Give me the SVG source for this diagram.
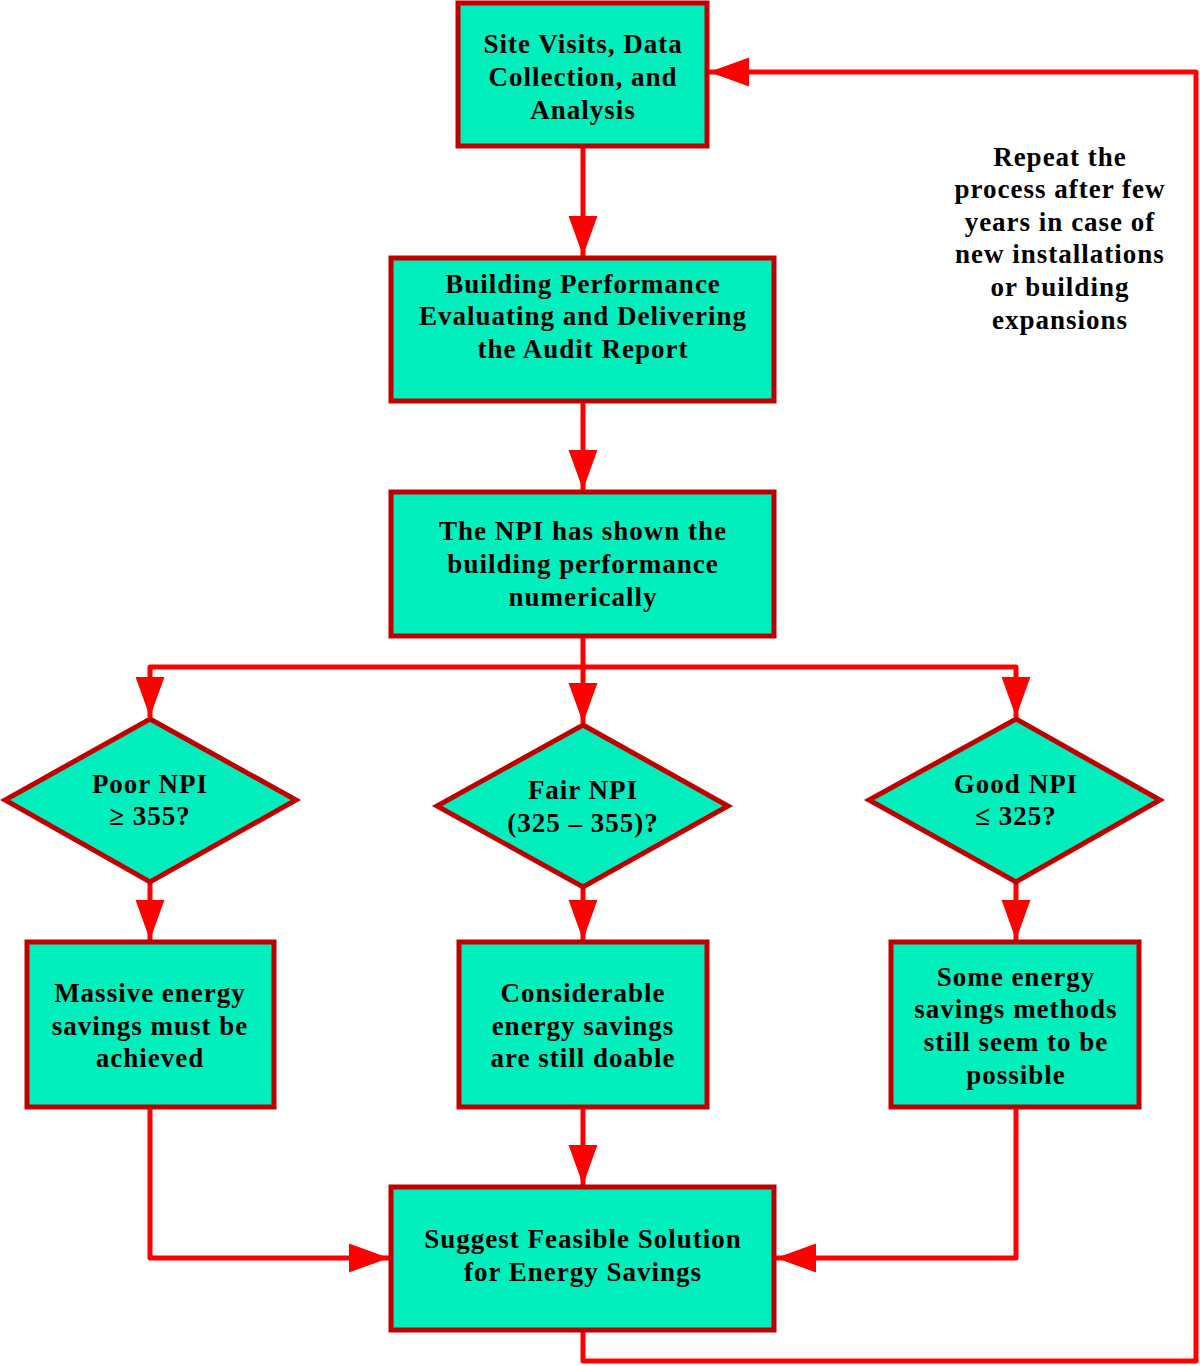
<svg xmlns="http://www.w3.org/2000/svg" width="1200" height="1366" viewBox="0 0 1200 1366">
<defs>
<style>
.n{fill:#00EFBC;stroke:#C00000;stroke-width:5}
.t{font-family:"Liberation Serif","DejaVu Serif",serif;font-weight:bold;font-size:27px;letter-spacing:1px;fill:#000;text-anchor:middle}
.c{fill:none;stroke:#FF0000;stroke-width:5;stroke-linejoin:round}
</style>
<marker id="a" markerUnits="userSpaceOnUse" markerWidth="40" markerHeight="30" viewBox="0 0 36 26" refX="36" refY="13" orient="auto">
<path d="M0,0 L36,13 L0,26 Z" fill="#FF0000"/>
</marker>
</defs>
<rect width="1200" height="1366" fill="#fff"/>
<g id="connectors">
<path class="c" d="M583,146 V256" marker-end="url(#a)"/>
<path class="c" d="M583,401 V490" marker-end="url(#a)"/>
<path class="c" d="M583,636 V723" marker-end="url(#a)"/>
<path class="c" d="M583,667 H150 V717" marker-end="url(#a)"/>
<path class="c" d="M583,667 H1016 V717" marker-end="url(#a)"/>
<path class="c" d="M150,882 V940" marker-end="url(#a)"/>
<path class="c" d="M583,887 V940" marker-end="url(#a)"/>
<path class="c" d="M1016,882 V940" marker-end="url(#a)"/>
<path class="c" d="M150,1107 V1258 H389" marker-end="url(#a)"/>
<path class="c" d="M1016,1107 V1258 H776" marker-end="url(#a)"/>
<path class="c" d="M583,1107 V1185" marker-end="url(#a)"/>
<path class="c" d="M583,1330 V1361 H1196 V72 H709" marker-end="url(#a)"/>
</g>
<g id="n1"><rect class="n" x="458" y="3" width="249" height="143"/>
<text class="t"><tspan x="583" y="53">Site Visits, Data</tspan><tspan x="583" y="86">Collection, and</tspan><tspan x="583" y="119">Analysis</tspan></text></g>
<g id="n2"><rect class="n" x="391" y="258" width="383" height="143"/>
<text class="t"><tspan x="583" y="293">Building Performance</tspan><tspan x="583" y="325">Evaluating and Delivering</tspan><tspan x="583" y="358">the Audit Report</tspan></text></g>
<g id="n3"><rect class="n" x="391" y="492" width="383" height="144"/>
<text class="t"><tspan x="583" y="540">The NPI has shown the</tspan><tspan x="583" y="573">building performance</tspan><tspan x="583" y="606">numerically</tspan></text></g>
<g id="d1"><polygon class="n" points="150,719 296,800 150,882 5,800"/>
<text class="t"><tspan x="150" y="793">Poor NPI</tspan><tspan x="150" y="825">≥ 355?</tspan></text></g>
<g id="d2"><polygon class="n" points="583,725 728,806 583,887 437,806"/>
<text class="t"><tspan x="583" y="799">Fair NPI</tspan><tspan x="583" y="832">(325 – 355)?</tspan></text></g>
<g id="d3"><polygon class="n" points="1016,719 1160,800 1016,882 869,800"/>
<text class="t"><tspan x="1016" y="793">Good NPI</tspan><tspan x="1016" y="825">≤ 325?</tspan></text></g>
<g id="n4"><rect class="n" x="27" y="942" width="247" height="165"/>
<text class="t"><tspan x="150" y="1002">Massive energy</tspan><tspan x="150" y="1035">savings must be</tspan><tspan x="150" y="1067">achieved</tspan></text></g>
<g id="n5"><rect class="n" x="459" y="942" width="248" height="165"/>
<text class="t"><tspan x="583" y="1002">Considerable</tspan><tspan x="583" y="1035">energy savings</tspan><tspan x="583" y="1067">are still doable</tspan></text></g>
<g id="n6"><rect class="n" x="891" y="942" width="248" height="165"/>
<text class="t"><tspan x="1016" y="986">Some energy</tspan><tspan x="1016" y="1018">savings methods</tspan><tspan x="1016" y="1051">still seem to be</tspan><tspan x="1016" y="1084">possible</tspan></text></g>
<g id="n7"><rect class="n" x="391" y="1187" width="383" height="143"/>
<text class="t"><tspan x="583" y="1248">Suggest Feasible Solution</tspan><tspan x="583" y="1281">for Energy Savings</tspan></text></g>
<g id="note"><text class="t"><tspan x="1060" y="166">Repeat the</tspan><tspan x="1060" y="198">process after few</tspan><tspan x="1060" y="231">years in case of</tspan><tspan x="1060" y="263">new installations</tspan><tspan x="1060" y="296">or building</tspan><tspan x="1060" y="329">expansions</tspan></text></g>
</svg>
